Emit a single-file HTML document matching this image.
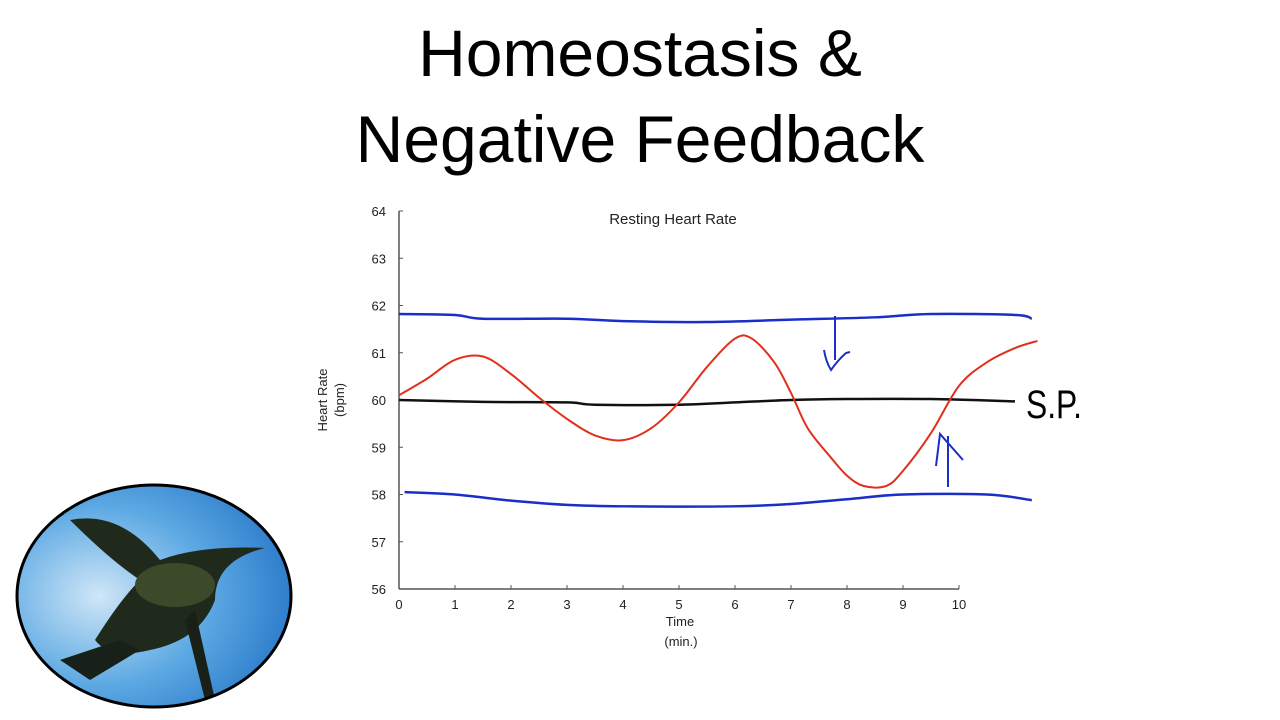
<!DOCTYPE html>
<html><head><meta charset="utf-8"><style>
body{margin:0;width:1280px;height:720px;background:#fff;overflow:hidden;font-family:"Liberation Sans",sans-serif}
svg{position:absolute;left:0;top:0}
</style></head><body>
<svg width="1280" height="720">
<text x="640" y="76" text-anchor="middle" font-size="66" fill="#000">Homeostasis &amp;</text>
<text x="640" y="162" text-anchor="middle" font-size="66" fill="#000">Negative Feedback</text>
<g>
<defs><radialGradient id="sky" cx="0.3" cy="0.5" r="0.8"><stop offset="0" stop-color="#cfe6f7"/><stop offset="0.5" stop-color="#5da9e3"/><stop offset="1" stop-color="#1f6fc4"/></radialGradient>
<clipPath id="ec"><ellipse cx="154" cy="596" rx="137" ry="111"/></clipPath></defs>
<ellipse cx="154" cy="596" rx="137" ry="111" fill="url(#sky)"/>
<g clip-path="url(#ec)">
<path d="M70 520 Q120 510 160 560 Q200 545 265 548 Q215 560 215 600 Q200 640 150 650 Q110 660 95 640 Q120 600 140 580 Q110 560 70 520Z" fill="#1f2a1c"/>
<path d="M120 640 L60 660 L90 680 L140 650Z" fill="#18201a"/>
<path d="M195 610 L215 700 L205 700 L185 620Z" fill="#182018"/>
<ellipse cx="175" cy="585" rx="40" ry="22" fill="#3d4a2a"/>
</g>
<ellipse cx="154" cy="596" rx="137" ry="111" fill="none" stroke="#000" stroke-width="3"/>
</g>
<g id="chart"></g>
</svg>
<script>
const xTicks=[0,1,2,3,4,5,6,7,8,9,10];
const yTicks=[56,57,58,59,60,61,62,63,64];
const redX=[0,0.5,1,1.5,2,2.5,3,3.5,4,4.5,5,5.5,6,6.3,6.7,7,7.3,7.7,8,8.3,8.7,9,9.5,10,10.5,11,11.4];
const redY=[60.1,60.45,60.85,60.92,60.55,60.05,59.6,59.25,59.15,59.4,59.95,60.7,61.3,61.3,60.8,60.15,59.4,58.8,58.4,58.18,58.18,58.5,59.3,60.3,60.8,61.1,61.25];
const upX=[0,1,1.5,3,4,5.5,7,8.5,9.5,11,11.3];
const upY=[61.82,61.8,61.72,61.72,61.67,61.65,61.7,61.75,61.82,61.8,61.72];
const loX=[0.1,1,2,3,4,6,7,8,9,10.5,11.3];
const loY=[58.05,58.0,57.87,57.78,57.75,57.75,57.8,57.9,58.0,58.0,57.88];
const spX=[0,1.5,3,3.5,5,6,7,8,9.5,11];
const spY=[60,59.96,59.95,59.9,59.9,59.95,60.0,60.02,60.02,59.97];
const X=v=>399+v*56, Y=v=>589-(v-56)*47.25;
const g=document.getElementById('chart');
const NS='http://www.w3.org/2000/svg';
function mk(t,a,p){const e=document.createElementNS(NS,t);for(const k in a)e.setAttribute(k,a[k]);(p||g).appendChild(e);return e;}
function smooth(xs,ys){const P=xs.map((x,i)=>[X(x),Y(ys[i])]);let d='M'+P[0][0]+' '+P[0][1];
for(let i=0;i<P.length-1;i++){const p0=P[Math.max(i-1,0)],p1=P[i],p2=P[i+1],p3=P[Math.min(i+2,P.length-1)];
d+=` C${p1[0]+(p2[0]-p0[0])/6} ${p1[1]+(p2[1]-p0[1])/6} ${p2[0]-(p3[0]-p1[0])/6} ${p2[1]-(p3[1]-p1[1])/6} ${p2[0]} ${p2[1]}`;}return d;}
let e=mk('line',{x1:X(0),y1:Y(64),x2:X(0),y2:Y(56),stroke:'#555','stroke-width':1.5});

e=mk('line',{x1:X(0),y1:Y(56),x2:X(10),y2:Y(56),stroke:'#555','stroke-width':1.5});

yTicks.forEach(v=>{const t=mk('text',{x:386,y:Y(v)+5,'text-anchor':'end','font-size':13,fill:'#222'});t.textContent=v;

mk('line',{x1:X(0),y1:Y(v),x2:X(0)+4,y2:Y(v),stroke:'#555'});});
xTicks.forEach(v=>{const t=mk('text',{x:X(v),y:609,'text-anchor':'middle','font-size':13,fill:'#222'});t.textContent=v;

mk('line',{x1:X(v),y1:Y(56),x2:X(v),y2:Y(56)-4,stroke:'#555'});});
[['Resting Heart Rate',673,224,15,'chart-title'],['Time',680,626,13,'x-axis-title'],['(min.)',681,646,13,'x-axis-unit']].forEach(a=>{const t=mk('text',{x:a[1],y:a[2],'text-anchor':'middle','font-size':a[3],fill:'#222'});t.textContent=a[0];});
let t=mk('text',{transform:'translate(327,400) rotate(-90)','text-anchor':'middle','font-size':13,fill:'#222'});t.textContent='Heart Rate';

t=mk('text',{transform:'translate(344,400) rotate(-90)','text-anchor':'middle','font-size':13,fill:'#222'});t.textContent='(bpm)';

e=mk('path',{d:smooth(upX,upY),fill:'none',stroke:'#1a2fc8','stroke-width':2.5});

e=mk('path',{d:smooth(loX,loY),fill:'none',stroke:'#1a2fc8','stroke-width':2.5});

e=mk('path',{d:smooth(spX,spY),fill:'none',stroke:'#111','stroke-width':2.5});

e=mk('path',{d:smooth(redX,redY),fill:'none',stroke:'#e0301c','stroke-width':2});

e=mk('path',{d:'M835 316 L835 360 M824 350 Q826 362 831 370 Q838 360 846 353 L850 352',fill:'none',stroke:'#1a2fc8','stroke-width':2});

e=mk('path',{d:'M948 487 L948 436 M936 466 L940 434 L963 460',fill:'none',stroke:'#1a2fc8','stroke-width':2});

t=mk('text',{x:1026,y:418,'font-size':40,fill:'#000','font-family':'Liberation Sans, sans-serif',textLength:56,lengthAdjust:'spacingAndGlyphs'});t.textContent='S.P.';

</script>
</body></html>
